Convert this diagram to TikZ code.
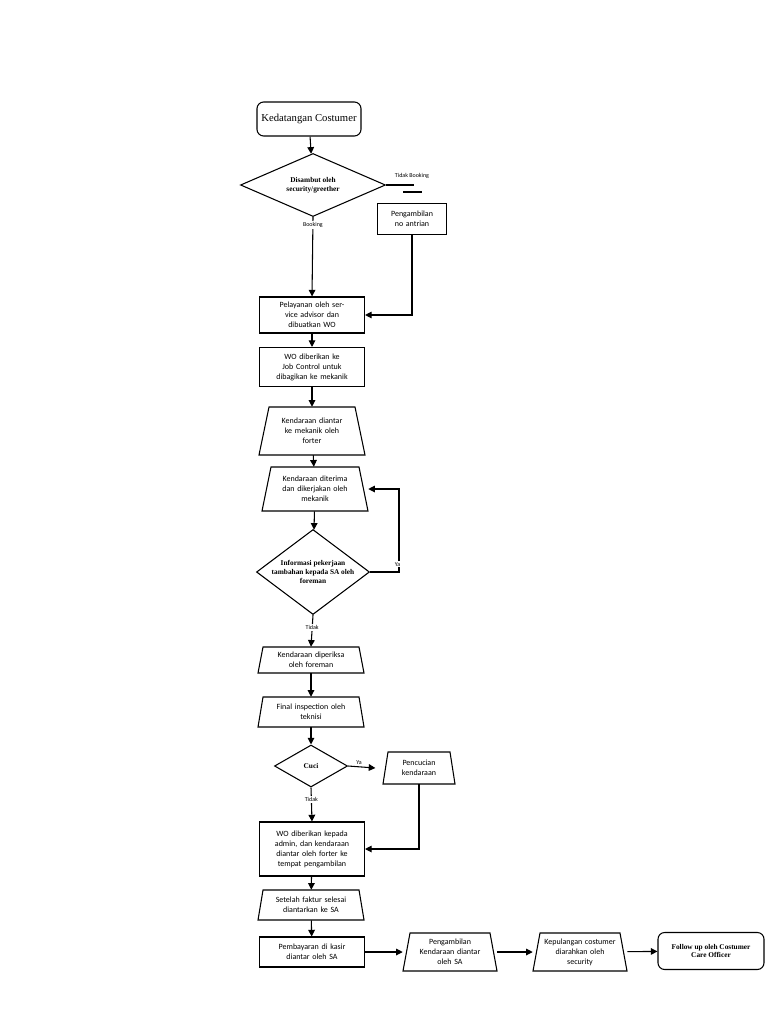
\documentclass[tikz,border=0pt]{standalone}
\usepackage{fontspec}
\setmainfont{Carlito}
\newfontfamily\serifb{Liberation Serif}
\usetikzlibrary{arrows.meta,shapes.geometric}
\newcommand{\trapz}[7]{% name cx cy halftop halfbottom halfh text
  \draw[thick] (#2-#4,#3-#6) -- (#2+#4,#3-#6) -- (#2+#5,#3+#6) -- (#2-#5,#3+#6) -- cycle;
  \node[txt,minimum width=2*#5*0.75pt,minimum height=2*#6*0.75pt,inner sep=0pt] (#1) at (#2,#3) {#7};}
\begin{document}
\begin{tikzpicture}[x=0.75pt,y=-0.75pt,
 txt/.style={font=\fontsize{6pt}{7.5pt}\selectfont,align=center,text width=65pt},
 box/.style={draw,thick,txt,minimum width=105*0.75pt,inner sep=1pt},
 rbox/.style={draw,thick,rounded corners=5pt,align=center,inner sep=1pt},
 dia/.style={draw,thick,diamond,aspect=2.3,inner sep=0pt,align=center,font=\serifb\bfseries\fontsize{5.5pt}{6.5pt}\selectfont},
 lab/.style={font=\fontsize{4.5pt}{5pt}\selectfont,inner sep=1pt},
 arr/.style={thick,-{Triangle[length=5pt,width=5pt]}}]
\useasboundingbox (0,0) rectangle (768,1024);
\node[rbox,minimum width=104*0.75pt,minimum height=34*0.75pt,font=\serifb\fontsize{8pt}{9pt}\selectfont] (start) at (309,119) {Kedatangan Costumer};
\node[dia,minimum width=145*0.75pt,minimum height=63*0.75pt] (d1) at (313,185) {Disambut oleh\\security/greether};
\node[box,minimum width=62*0.75pt,minimum height=31*0.75pt,text width=50pt] (antri) at (412,219) {Pengambilan\\no antrian};
\node[box,minimum height=36*0.75pt] (sa) at (312,315) {Pelayanan oleh service advisor dan dibuatkan WO};
\node[box,minimum height=39*0.75pt] (jc) at (312,367) {WO diberikan ke Job Control untuk dibagikan ke mekanik};
\trapz{t1}{312}{431}{43}{53}{24}{Kendaraan diantar\\ke mekanik oleh\\forter}
\trapz{t2}{315}{489}{44}{53}{22}{Kendaraan diterima\\dan dikerjakan oleh\\mekanik}
\node[dia,aspect=1.35,minimum width=113*0.75pt,minimum height=85*0.75pt] (d2) at (313,572) {Informasi pekerjaan\\tambahan kepada SA oleh\\foreman};
\trapz{t3}{311}{660}{48}{53}{13}{Kendaraan diperiksa\\oleh foreman}
\trapz{t4}{311}{712}{48}{53}{15}{Final inspection oleh\\teknisi}
\node[dia,aspect=1.75,minimum width=73*0.75pt,minimum height=42*0.75pt] (d3) at (311,766) {Cuci};
\trapz{pc}{419}{768}{31}{36}{16}{Pencucian\\kendaraan}
\node[box,minimum height=54*0.75pt] (adm) at (312,849) {WO diberikan kepada admin, dan kendaraan diantar oleh forter ke tempat pengambilan};
\trapz{t5}{311}{905}{48}{53}{15}{Setelah faktur selesai\\diantarkan ke SA}
\node[box,minimum height=30*0.75pt] (bayar) at (312,952) {Pembayaran di kasir\\diantar oleh SA};
\trapz{t6}{450}{952}{40}{47}{19}{Pengambilan\\Kendaraan diantar\\oleh SA}
\trapz{t7}{580}{952}{40}{47}{19}{Kepulangan costumer\\diarahkan oleh\\security}
\node[rbox,minimum width=106*0.75pt,minimum height=37*0.75pt,font=\serifb\bfseries\fontsize{5.5pt}{6.5pt}\selectfont] (fu) at (711,951) {Follow up oleh Costumer\\Care Officer};
% connectors
\draw[arr] (start) -- (d1);
\draw[thick] (d1.east) -- ++(28,0) coordinate (tb);
\node[lab,anchor=south] at (412,180) {Tidak Booking};
\coordinate (l1) at (403,192); \coordinate (l2) at (422,192);
\draw[thick] (l1) -- (l2);
\draw[arr] (d1.south) -- node[lab,pos=0.1,fill=white]{Booking} (sa.north);
\draw[arr] (antri.south) |- (sa.east);
\draw[arr] (sa) -- (jc);
\draw[arr] (jc) -- (t1);
\draw[arr] (t1) -- (t2);
\draw[arr] (t2) -- (d2);
\coordinate (yr) at (399,572);
\draw[arr] (d2.east) -- (yr) node[lab,pos=0.95,above=3pt,fill=white]{Ya} |- (t2.east);
\draw[arr] (d2.south) -- node[lab,pos=0.4,fill=white]{Tidak} (t3.north);
\draw[arr] (t3) -- (t4);
\draw[arr] (t4) -- (d3);
\draw[arr] (d3.east) -- node[lab,above,pos=0.4]{Ya} (pc.west);
\draw[arr] (d3.south) -- node[lab,pos=0.35,fill=white]{Tidak} (adm.north);
\draw[arr] (pc.south) |- (adm.east);
\draw[arr] (adm) -- (t5);
\draw[arr] (t5) -- (bayar);
\draw[arr] (bayar) -- (t6);
\draw[arr] (t6) -- (t7);
\draw[arr] (t7) -- (fu);
\end{tikzpicture}
\end{document}
